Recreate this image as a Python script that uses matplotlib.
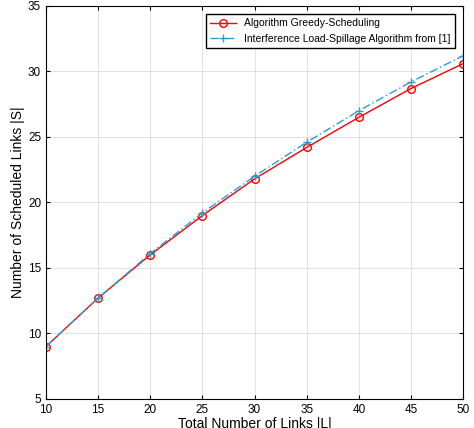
import matplotlib.pyplot as plt

plt.rcParams['font.family'] = ['Liberation Sans', 'DejaVu Sans']

links = [10, 15, 20, 25, 30, 35, 40, 45, 50]
greedy = [9.0, 12.7, 16.0, 19.0, 21.8, 24.2, 26.5, 28.7, 30.6]
spillage = [9.0, 12.7, 16.1, 19.2, 22.0, 24.6, 27.0, 29.2, 31.2]

fig = plt.figure(figsize=(4.74, 4.28), dpi=100)
ax = fig.add_axes([0.097, 0.068, 0.88, 0.918])

ax.plot(links, greedy, color='#ff0000', marker='o', markersize=5.5, markerfacecolor='none',
        linewidth=1, label='Algorithm Greedy-Scheduling')
ax.plot(links, spillage, color='#2a9fd6', marker='+', markersize=6, linestyle=(0, (6, 2, 1, 2)),
        linewidth=1, label='Interference Load-Spillage Algorithm from [1]')

ax.set_xlim(10, 50)
ax.set_ylim(5, 35)
ax.set_xticks(range(10, 51, 5))
ax.set_yticks(range(5, 36, 5))
ax.tick_params(direction='in', labelsize=8.5, top=True, right=True, length=3)
ax.grid(True, color='#dddddd', linewidth=0.6)
ax.set_xlabel('Total Number of Links |L|', fontsize=10, labelpad=1)
ax.set_ylabel('Number of Scheduled Links |S|', fontsize=10, labelpad=2)
ax.legend(loc='upper right', fontsize=7.5, frameon=True, fancybox=False, edgecolor='black',
          framealpha=1, borderaxespad=0.8, handlelength=2.5)

fig.savefig('out.png', dpi=100)
